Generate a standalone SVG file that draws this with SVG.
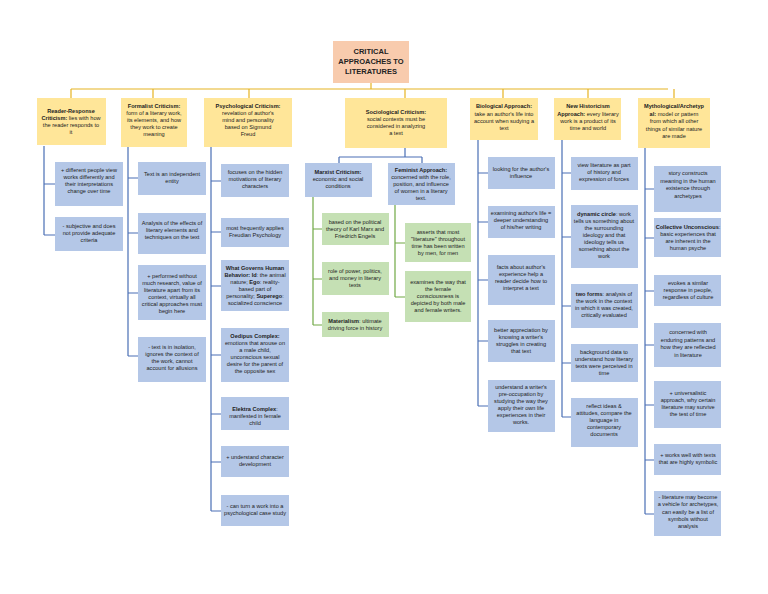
<svg xmlns="http://www.w3.org/2000/svg" width="768" height="594" viewBox="0 0 768 594">
<style>
text{font-family:"Liberation Sans",Arial,sans-serif;font-size:5.6px;fill:#222;text-anchor:middle}
.b{font-weight:bold}
.h{fill:#ffe699}
.t{fill:#f8cbad}
.u{fill:#b4c7e7}
.g{fill:#c5e0b4}
.yl{stroke:#e6b422;stroke-width:1.2;fill:none}
.bl{stroke:#4a6fb5;stroke-width:1.2;fill:none}
.gl{stroke:#70a845;stroke-width:1.2;fill:none}
</style>
<rect width="768" height="594" fill="#fff"/>
<g id="connectors">
<path class="yl" d="M371 83V89M71 89H668M71 89V98M153 89V98M249 89V98M405 89V98M503 89V98M588 89V98M674 89V98"/>
<path class="bl" d="M44 146V235M44 184H55M44 235H55"/>
<path class="bl" d="M128 147V356M128 178H138M128 233H138M128 293H138M128 356H138"/>
<path class="bl" d="M211 147V511M211 181H221M211 232H221M211 286H221M211 355H221M211 414H221M211 462H221M211 511H221"/>
<path class="bl" d="M405 148V157M339 157H422M339 157V163M422 157V163"/>
<path class="gl" d="M313 197V325M313 229H322M313 279H322M313 325H322"/>
<path class="gl" d="M395 205V297M395 243H405M395 297H405"/>
<path class="bl" d="M478 140V406M478 173H488M478 222H488M478 280H488M478 341H488M478 406H488"/>
<path class="bl" d="M562 140V417M562 173H571M562 237H571M562 306H571M562 363H571M562 417H571"/>
<path class="bl" d="M645 148V514M645 189H654M645 238H654M645 291H654M645 345H654M645 405H654M645 460H654M645 514H654"/>
</g>
<g id="title"><rect class="t" x="333" y="41" width="76" height="42"/>
<text class="b" font-size="7.5" x="371" y="54" style="font-size:7.5px">CRITICAL</text><text class="b" x="371" y="64" style="font-size:7.5px">APPROACHES TO</text><text class="b" x="371" y="74" style="font-size:7.5px">LITERATURES</text></g>
<g id="reader"><rect class="h" x="37" y="98" width="69" height="47"/>
<text x="71" y="113"><tspan class="b">Reader-Response</tspan></text><text x="71" y="120"><tspan class="b">Criticism:</tspan> lies with how</text><text x="71" y="127">the reader responds to</text><text x="71" y="134">it</text></g>
<g id="rr1"><rect class="u" x="55" y="162" width="68" height="44"/><text x="89" y="172">+ different people view</text><text x="89" y="179">works differently and</text><text x="89" y="186">their interpretations</text><text x="89" y="193">change over time</text></g>
<g id="rr2"><rect class="u" x="55" y="217" width="68" height="34"/><text x="89" y="228">- subjective and does</text><text x="89" y="235">not provide adequate</text><text x="89" y="242">criteria</text></g>
<g id="formalist"><rect class="h" x="121" y="98" width="66" height="49"/>
<text class="b" x="154" y="108">Formalist Criticism:</text><text x="154" y="115">form of a literary work,</text><text x="154" y="122">its elements, and how</text><text x="154" y="129">they work to create</text><text x="154" y="136">meaning</text></g>
<g id="f1"><rect class="u" x="138" y="162" width="68" height="33"/><text x="172" y="176">Text is an independent</text><text x="172" y="183">entity</text></g>
<g id="f2"><rect class="u" x="138" y="213" width="68" height="41"/><text x="172" y="225">Analysis of the effects of</text><text x="172" y="232">literary elements and</text><text x="172" y="239">techniques on the text</text></g>
<g id="f3"><rect class="u" x="138" y="265" width="68" height="55"/><text x="172" y="278">+ performed without</text><text x="172" y="285">much research, value of</text><text x="172" y="292">literature apart from its</text><text x="172" y="299">context, virtually all</text><text x="172" y="306">critical approaches must</text><text x="172" y="313">begin here</text></g>
<g id="f4"><rect class="u" x="138" y="337" width="68" height="45"/><text x="172" y="349">- text is in isolation,</text><text x="172" y="356">ignores the context of</text><text x="172" y="363">the work, cannot</text><text x="172" y="370">account for allusions</text></g>
<g id="psych"><rect class="h" x="204" y="98" width="88" height="49"/>
<text class="b" x="248" y="108">Psychological Criticism:</text><text x="248" y="115">revelation of author's</text><text x="248" y="122">mind and personality</text><text x="248" y="129">based on Sigmund</text><text x="248" y="136">Freud</text></g>
<g id="p1"><rect class="u" x="221" y="164" width="68" height="33"/><text x="255" y="174">focuses on the hidden</text><text x="255" y="181">motivations of literary</text><text x="255" y="188">characters</text></g>
<g id="p2"><rect class="u" x="221" y="218" width="68" height="29"/><text x="255" y="230">most frequently applies</text><text x="255" y="237">Freudian Psychology</text></g>
<g id="p3"><rect class="u" x="221" y="260" width="68" height="51"/><text class="b" x="255" y="270">What Governs Human</text><text x="255" y="277"><tspan class="b">Behavior: Id</tspan>: the animal</text><text x="255" y="284">nature; <tspan class="b">Ego</tspan>: reality-</text><text x="255" y="291">based part of</text><text x="255" y="298">personality; <tspan class="b">Superego</tspan>:</text><text x="255" y="305">socialized conscience</text></g>
<g id="p4"><rect class="u" x="221" y="328" width="68" height="54"/><text class="b" x="255" y="338">Oedipus Complex:</text><text x="255" y="345">emotions that arouse on</text><text x="255" y="352">a male child,</text><text x="255" y="359">unconscious sexual</text><text x="255" y="366">desire for the parent of</text><text x="255" y="373">the opposite sex</text></g>
<g id="p5"><rect class="u" x="221" y="397" width="68" height="33"/><text x="255" y="411"><tspan class="b">Elektra Complex</tspan>:</text><text x="255" y="418">manifested in female</text><text x="255" y="425">child</text></g>
<g id="p6"><rect class="u" x="221" y="446" width="68" height="31"/><text x="255" y="459">+ understand character</text><text x="255" y="466">development</text></g>
<g id="p7"><rect class="u" x="221" y="495" width="68" height="31"/><text x="255" y="508">- can turn a work into a</text><text x="255" y="515">psychological case study</text></g>
<g id="socio"><rect class="h" x="345" y="98" width="102" height="50"/>
<text class="b" x="396" y="114">Sociological Criticism:</text><text x="396" y="121">social contexts must be</text><text x="396" y="128">considered in analyzing</text><text x="396" y="135">a text</text></g>
<g id="marxist"><rect class="u" x="305" y="163" width="67" height="34"/><text class="b" x="338" y="174">Marxist Criticism:</text><text x="338" y="181">economic and social</text><text x="338" y="188">conditions</text></g>
<g id="m1"><rect class="g" x="322" y="213" width="67" height="32"/><text x="355" y="224">based on the political</text><text x="355" y="231">theory of Karl Marx and</text><text x="355" y="238">Friedrich Engels</text></g>
<g id="m2"><rect class="g" x="322" y="262" width="67" height="33"/><text x="355" y="273">role of power, politics,</text><text x="355" y="280">and money in literary</text><text x="355" y="287">texts</text></g>
<g id="m3"><rect class="g" x="322" y="312" width="67" height="25"/><text x="355" y="323"><tspan class="b">Materialism</tspan>: ultimate</text><text x="355" y="330">driving force in history</text></g>
<g id="feminist"><rect class="u" x="388" y="163" width="67" height="42"/><text class="b" x="421" y="172">Feminist Approach:</text><text x="421" y="179">concerned with the role,</text><text x="421" y="186">position, and influence</text><text x="421" y="193">of women in a literary</text><text x="421" y="200">text.</text></g>
<g id="fe1"><rect class="g" x="405" y="223" width="66" height="39"/><text x="438" y="234">asserts that most</text><text x="438" y="241">"literature" throughout</text><text x="438" y="248">time has been written</text><text x="438" y="255">by men, for men</text></g>
<g id="fe2"><rect class="g" x="405" y="271" width="66" height="51"/><text x="438" y="284">examines the way that</text><text x="438" y="291">the female</text><text x="438" y="298">consciousness is</text><text x="438" y="305">depicted by both male</text><text x="438" y="312">and female writers.</text></g>
<g id="bio"><rect class="h" x="470" y="98" width="68" height="42"/>
<text class="b" x="504" y="108">Biological Approach:</text><text x="504" y="116">take an author's life into</text><text x="504" y="123">account when sudying a</text><text x="504" y="130">text</text></g>
<g id="b1"><rect class="u" x="488" y="157" width="67" height="32"/><text x="521" y="171">looking for the author's</text><text x="521" y="178">influence</text></g>
<g id="b2"><rect class="u" x="488" y="206" width="67" height="32"/><text x="521" y="215">examining author's life =</text><text x="521" y="222">deeper understanding</text><text x="521" y="229">of his/her writing</text></g>
<g id="b3"><rect class="u" x="488" y="255" width="67" height="50"/><text x="521" y="269">facts about author's</text><text x="521" y="276">experience help a</text><text x="521" y="283">reader decide how to</text><text x="521" y="290">interpret a text</text></g>
<g id="b4"><rect class="u" x="488" y="320" width="67" height="42"/><text x="521" y="332">better appreciation by</text><text x="521" y="339">knowing a writer's</text><text x="521" y="346">struggles in creating</text><text x="521" y="353">that text</text></g>
<g id="b5"><rect class="u" x="488" y="380" width="67" height="52"/><text x="521" y="389">understand a writer's</text><text x="521" y="396">pre-occupation by</text><text x="521" y="403">studying the way they</text><text x="521" y="410">apply their own life</text><text x="521" y="417">experiences in their</text><text x="521" y="424">works.</text></g>
<g id="newhist"><rect class="h" x="554" y="98" width="67" height="42"/>
<text class="b" x="588" y="108">New Historicism</text><text x="588" y="116"><tspan class="b">Approach:</tspan> every literary</text><text x="588" y="123">work is a product of its</text><text x="588" y="130">time and world</text></g>
<g id="n1"><rect class="u" x="571" y="157" width="67" height="33"/><text x="604" y="167">view literature as part</text><text x="604" y="174">of history and</text><text x="604" y="181">expression of forces</text></g>
<g id="n2"><rect class="u" x="571" y="205" width="67" height="63"/><text x="604" y="216"><tspan class="b">dynamic circle</tspan>: work</text><text x="604" y="223">tells us something about</text><text x="604" y="230">the surrounding</text><text x="604" y="237">ideology and that</text><text x="604" y="244">ideology tells us</text><text x="604" y="251">something about the</text><text x="604" y="258">work</text></g>
<g id="n3"><rect class="u" x="571" y="284" width="67" height="44"/><text x="604" y="296"><tspan class="b">two forms</tspan>: analysis of</text><text x="604" y="303">the work in the context</text><text x="604" y="310">in which it was created,</text><text x="604" y="317">critically evaluated</text></g>
<g id="n4"><rect class="u" x="571" y="344" width="67" height="38"/><text x="604" y="354">background data to</text><text x="604" y="361">understand how literary</text><text x="604" y="368">texts were perceived in</text><text x="604" y="375">time</text></g>
<g id="n5"><rect class="u" x="571" y="398" width="67" height="49"/><text x="604" y="408">reflect ideas &amp;</text><text x="604" y="415">attitudes, compare the</text><text x="604" y="422">language in</text><text x="604" y="429">contemporary</text><text x="604" y="436">documents</text></g>
<g id="myth"><rect class="h" x="638" y="98" width="72" height="50"/>
<text class="b" x="674" y="108">Mythological/Archetyp</text><text x="674" y="116"><tspan class="b">al:</tspan> model or pattern</text><text x="674" y="123">from which all other</text><text x="674" y="131">things of similar nature</text><text x="674" y="138">are made</text></g>
<g id="y1"><rect class="u" x="654" y="166" width="67" height="46"/><text x="688" y="175">story constructs</text><text x="688" y="183">meaning in the human</text><text x="688" y="190">existence through</text><text x="688" y="198">archetypes</text></g>
<g id="y2"><rect class="u" x="654" y="218" width="67" height="39"/><text x="688" y="229"><tspan class="b">Collective Unconscious</tspan>:</text><text x="688" y="236">basic experiences that</text><text x="688" y="243">are inherent in the</text><text x="688" y="250">human psyche</text></g>
<g id="y3"><rect class="u" x="654" y="275" width="67" height="31"/><text x="688" y="285">evokes a similar</text><text x="688" y="292">response in people,</text><text x="688" y="299">regardless of culture</text></g>
<g id="y4"><rect class="u" x="654" y="323" width="67" height="44"/><text x="688" y="334">concerned with</text><text x="688" y="342">enduring patterns and</text><text x="688" y="349">how they are reflected</text><text x="688" y="357">in literature</text></g>
<g id="y5"><rect class="u" x="654" y="381" width="67" height="47"/><text x="688" y="395">+ universalistic</text><text x="688" y="402">approach, why certain</text><text x="688" y="409">literature may survive</text><text x="688" y="416">the test of time</text></g>
<g id="y6"><rect class="u" x="654" y="444" width="67" height="31"/><text x="688" y="457">+ works well with texts</text><text x="688" y="464">that are highly symbolic</text></g>
<g id="y7"><rect class="u" x="654" y="491" width="67" height="45"/><text x="688" y="499">- literature may become</text><text x="688" y="506">a vehicle for archetypes,</text><text x="688" y="514">can easily be a list of</text><text x="688" y="521">symbols without</text><text x="688" y="528">analysis</text></g>
</svg>
